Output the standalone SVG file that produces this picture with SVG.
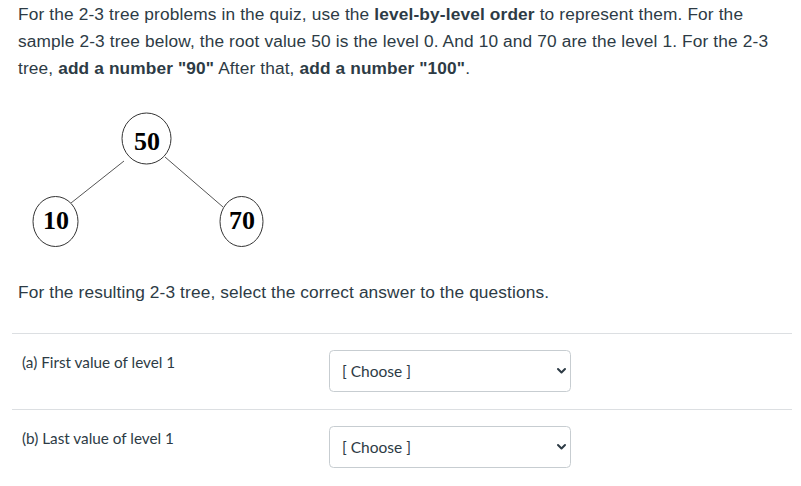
<svg xmlns="http://www.w3.org/2000/svg" width="801" height="486" viewBox="0 0 801 486">
<style>
.p{font-family:"Liberation Sans",Arial,sans-serif;font-size:17.3px;fill:#2d3b45}
.b{font-weight:bold}
.n{font-family:"Liberation Serif","Times New Roman",serif;font-weight:bold;font-size:26px;fill:#000;text-anchor:middle}
.node{fill:#fff;stroke:#333;stroke-width:1}
.edge{stroke:#555;stroke-width:1;fill:none}
.lab{font-family:Lato,"Noto Sans",sans-serif;font-size:15.3px;fill:#2d3b45}
.sel{fill:#fff;stroke:#c7cdd1;stroke-width:1}
.opt{font-family:Lato,"Noto Sans",sans-serif;font-size:15.5px;fill:#2d3b45}
.chev{fill:none;stroke:#2d3b45;stroke-width:2;stroke-linecap:round;stroke-linejoin:round}
.sep{stroke:#dcdfe2;stroke-width:1}
</style>
<rect width="801" height="486" fill="#fff"/>
<text class="p" x="18" y="20" textLength="725" lengthAdjust="spacing">For the 2-3 tree problems in the quiz, use the <tspan class="b">level-by-level order</tspan> to represent them. For the</text>
<text class="p" x="18" y="47" textLength="750" lengthAdjust="spacing">sample 2-3 tree below, the root value 50 is the level 0. And 10 and 70 are the level 1. For the 2-3</text>
<text class="p" x="18" y="74" textLength="452" lengthAdjust="spacing">tree, <tspan class="b">add a number "90"</tspan> After that, <tspan class="b">add a number "100"</tspan>.</text>
<g id="connectors">
<line class="edge" x1="124" y1="161" x2="71" y2="203"/>
<line class="edge" x1="165" y1="157" x2="223" y2="207"/>
</g>
<g id="node50"><ellipse class="node" cx="146.5" cy="138.5" rx="24.5" ry="25.5"/><text class="n" x="147" y="150">50</text></g>
<g id="node10"><ellipse class="node" cx="55.5" cy="221.5" rx="22.5" ry="25"/><text class="n" x="56" y="229">10</text></g>
<g id="node70"><ellipse class="node" cx="241.5" cy="221.5" rx="21.5" ry="25"/><text class="n" x="242" y="229">70</text></g>
<text class="p" x="18" y="298" textLength="531" lengthAdjust="spacing">For the resulting 2-3 tree, select the correct answer to the questions.</text>
<line class="sep" x1="12" y1="333.5" x2="792" y2="333.5"/>
<text class="lab" x="22" y="367.5">(a) First value of level 1</text>
<g id="select-a"><rect class="sel" x="329.5" y="350.5" width="241" height="41" rx="4"/><text class="opt" x="342" y="376.5">[ Choose ]</text><path class="chev" d="M558 369l3.5 3.5 3.5-3.5"/></g>
<line class="sep" x1="12" y1="409.5" x2="792" y2="409.5"/>
<text class="lab" x="22" y="443.5">(b) Last value of level 1</text>
<g id="select-b"><rect class="sel" x="329.5" y="426.5" width="241" height="41" rx="4"/><text class="opt" x="342" y="452.5">[ Choose ]</text><path class="chev" d="M558 445l3.5 3.5 3.5-3.5"/></g>
</svg>
